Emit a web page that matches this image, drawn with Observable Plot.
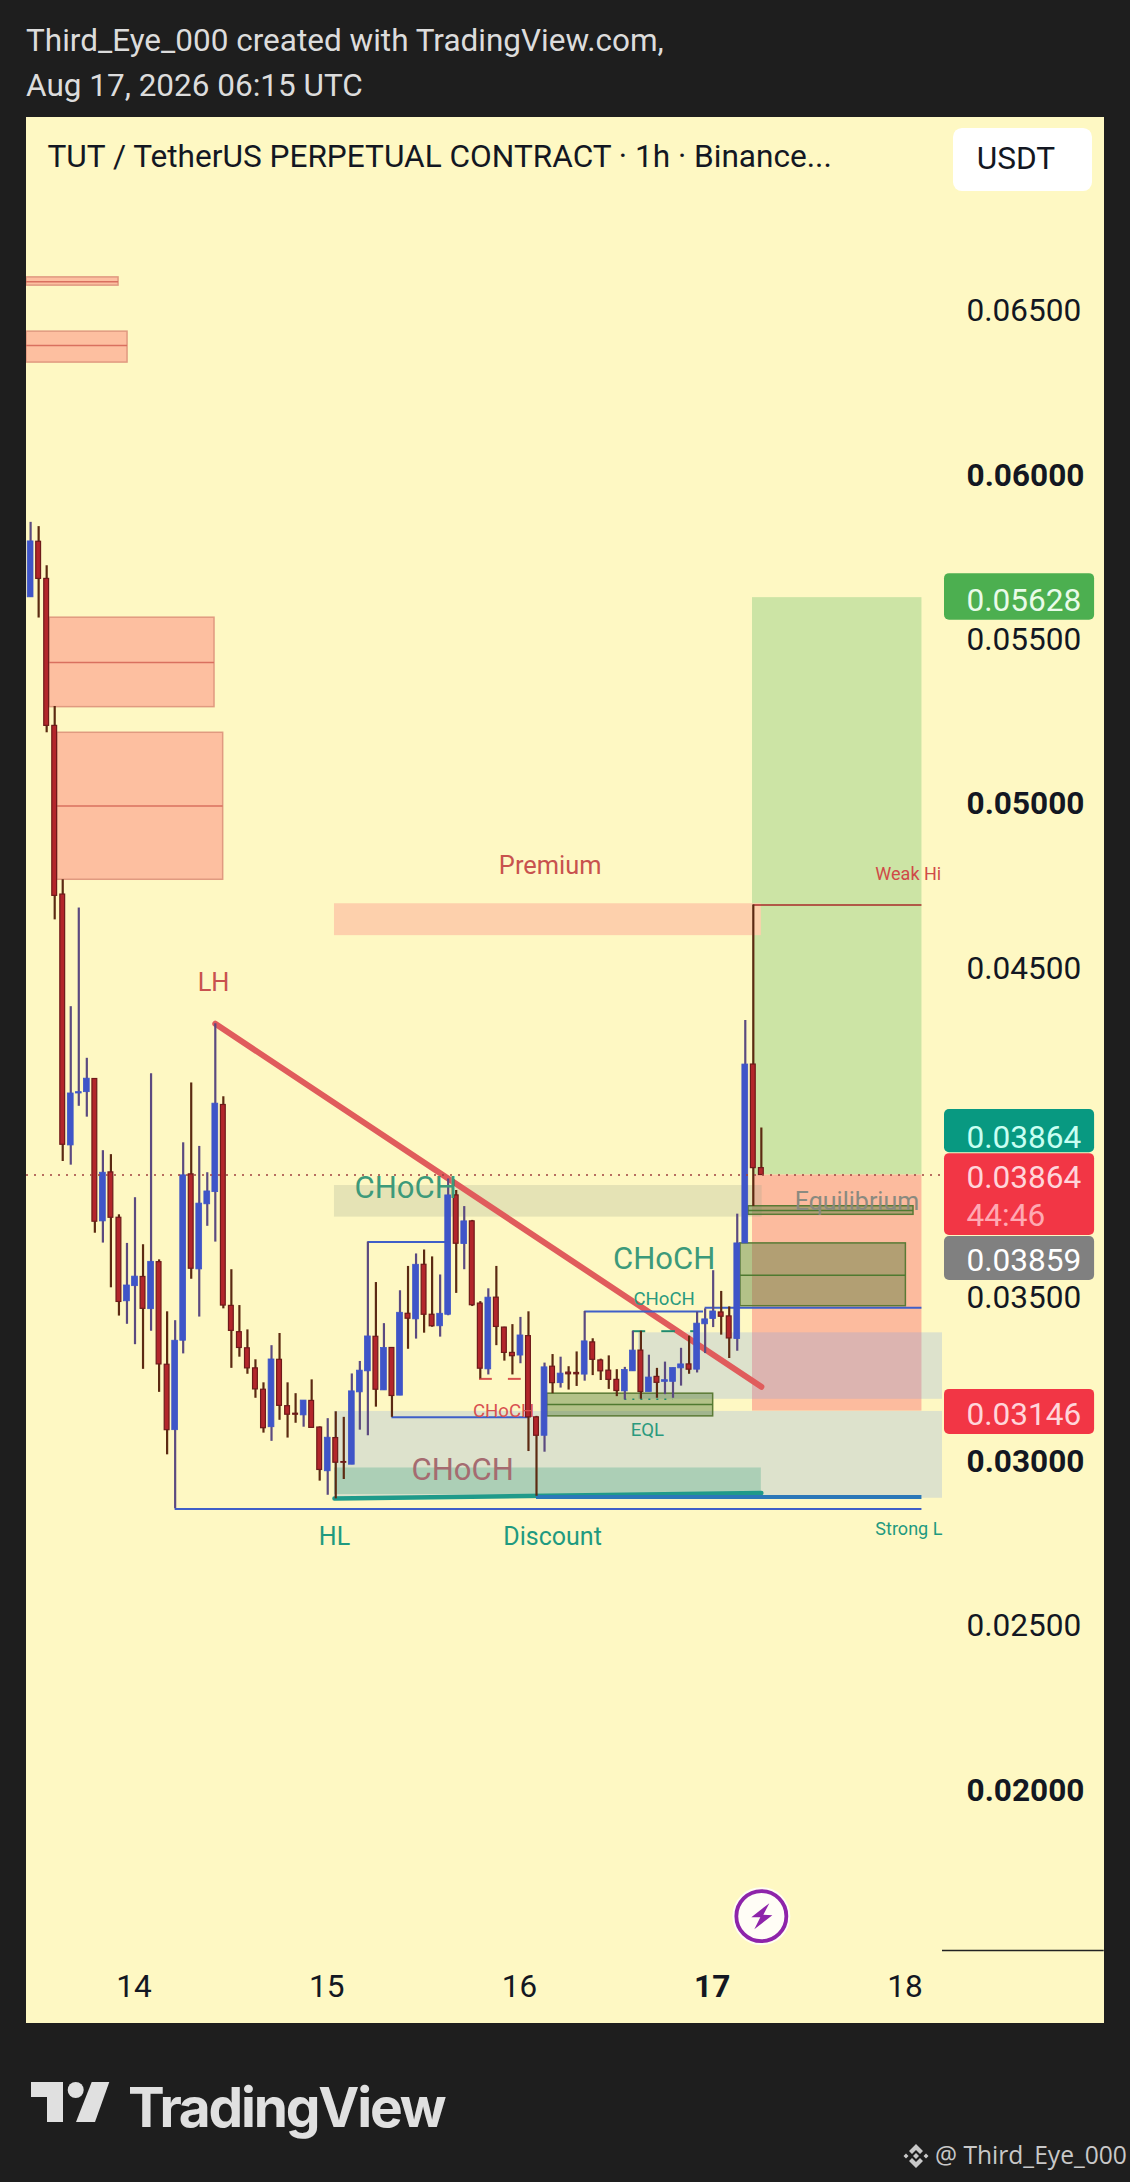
<!DOCTYPE html>
<html><head><meta charset="utf-8">
<script src="https://cdn.jsdelivr.net/npm/d3@7"></script>
<script src="https://cdn.jsdelivr.net/npm/@observablehq/plot@0.6"></script>
<style>
html,body{margin:0;padding:0;background:#1e1e1e;width:1130px;height:2182px;overflow:hidden;font-family:Roboto,sans-serif}
#head{position:absolute;left:26px;top:19px;color:#dcdcdc;font-size:31.5px;line-height:44.5px;white-space:nowrap}
#panel{position:absolute;left:26px;top:117px;width:1078px;height:1906px;background:#fef8c3;overflow:hidden}
#foot{position:absolute;left:0;top:2023px;width:1130px;height:159px}
#word{position:absolute;left:128px;top:49px;font:700 55px/70px Inter,sans-serif;color:#e0e0e0;letter-spacing:-2.2px}
#credit{position:absolute;left:935px;top:117px;font:24.6px/30px "Open Sans",sans-serif;color:#c8c8c8;white-space:nowrap}
</style></head><body>
<div id="head">Third_Eye_000 created with TradingView.com,<br>Aug 17, 2026 06:15 UTC</div>
<div id="panel"></div>
<div id="foot">
<svg style="position:absolute;left:0;top:0" width="120" height="120"><g fill="#e0e0e0"><path d="M31 59H63V99H47V74H31Z"/><path d="M91.7 59H109.3L95 99H76Z"/><circle cx="75.7" cy="67" r="8"/></g></svg>
<div id="word">TradingView</div>
<svg style="position:absolute;left:901px;top:118px" width="30" height="30" viewBox="0 0 30 30"><g fill="#c8c8c8"><path d="M15 3L22 10L19 13L15 9L11 13L8 10Z"/><path d="M15 27L22 20L19 17L15 21L11 17L8 20Z"/><path d="M15 12L18 15L15 18L12 15Z"/><path d="M5 12.5L7.5 15L5 17.5L2.5 15ZM25 12.5L27.5 15L25 17.5L22.5 15Z"/></g></svg>
<div id="credit">@ Third_Eye_000</div>
</div>
<script>
// Candles, one per hour, first candle = hour -13 relative to Aug 14 00:00
const candleOpen = [
.05621,.05790,.05677,.05230,.04717,.03954,.04112,.04116,.04156,.03723,
.03872,.03734,.03480,.03526,.03554,.03456,.03599,.03287,.03088,.03360,
.03866,.03577,.03775,.03812,.04077,.03466,.03386,.03337,.03276,.03211,
.03097,.03302,.03161,.03138,.03133,.03177,.03096,.02963,.03064,.02991,
.02983,.03203,.03267,.03372,.03209,.03338,.03193,.03442,.03425,.03591,
.03439,.03404,.03439,.03802,.03654,.03723,.03473,.03273,.03491,.03400,
.03323,.03315,.03374,.03127,.03071,.03281,.03231,.03263,.03262,.03257,
.03355,.03300,.03269,.03241,.03206,.03267,.03330,.03204,.03250,.03235,
.03235,.03276,.03288,.03272,.03410,.03426,.03446,.03434,.03365,.03656,
.04200,.03885];
const candleClose = [
.05791,.05677,.05230,.04713,.03956,.04112,.04116,.04157,.03722,.03871,
.03734,.03478,.03528,.03555,.03457,.03600,.03288,.03088,.03360,.03863,
.03579,.03777,.03814,.04081,.03467,.03390,.03338,.03276,.03212,.03094,
.03303,.03162,.03135,.03135,.03178,.03095,.02967,.03065,.02989,.02989,
.03206,.03269,.03373,.03211,.03338,.03192,.03445,.03427,.03591,.03439,
.03404,.03442,.03802,.03655,.03723,.03468,.03275,.03491,.03402,.03323,
.03313,.03376,.03127,.03071,.03279,.03231,.03260,.03258,.03258,.03358,
.03302,.03267,.03241,.03207,.03271,.03330,.03204,.03248,.03232,.03240,
.03277,.03288,.03272,.03412,.03425,.03449,.03433,.03367,.03656,.04200,
.03885,.03864];
const candleHigh = [
.05849,.05836,.05717,.05289,.04762,.04376,.04676,.04219,.04157,.03938,
.03926,.03743,.03656,.03795,.03652,.04172,.03606,.03448,.03421,.03962,
.04144,.03951,.03871,.04324,.04102,.03576,.03467,.03393,.03302,.03232,
.03345,.03382,.03232,.03199,.03178,.03241,.03098,.03123,.03144,.03127,
.03259,.03297,.03660,.03537,.03412,.03338,.03512,.03586,.03624,.03636,
.03615,.03560,.03852,.03817,.03768,.03726,.03479,.03518,.03586,.03401,
.03409,.03431,.03448,.03130,.03292,.03318,.03310,.03281,.03326,.03449,
.03366,.03304,.03314,.03272,.03279,.03389,.03389,.03316,.03276,.03295,
.03277,.03337,.03374,.03447,.03457,.03573,.03510,.03463,.03745,.04334,
.04685,.04007];
const candleLow = [
.05621,.05558,.05209,.04640,.03905,.03894,.04073,.04040,.03687,.03657,
.03521,.03435,.03410,.03348,.03273,.03389,.03203,.03013,.02849,.03320,
.03547,.03432,.03708,.03660,.03457,.03276,.03310,.03258,.03185,.03079,
.03054,.03118,.03064,.03109,.03097,.03095,.02933,.02890,.02879,.02938,
.02983,.03088,.03071,.03158,.03209,.03127,.03193,.03334,.03365,.03383,
.03401,.03371,.03436,.03504,.03576,.03464,.03244,.03256,.03345,.03298,
.03256,.03290,.03023,.02887,.03021,.03199,.03216,.03210,.03221,.03237,
.03254,.03239,.03212,.03190,.03180,.03267,.03182,.03204,.03185,.03196,
.03185,.03222,.03258,.03262,.03321,.03400,.03377,.03306,.03328,.03656,
.03768,.03864];
const firstHour = -13;

// Axis ticks
const priceTicks = [.065,.055,.045,.035,.025];
const priceTicksBold = [.06,.05,.03,.02];
const dayHours = [0,24,48,96];
const dayLabels = ["14","15","16","18"];
const dayHourBold = [72];
const dayLabelBold = ["17"];
const lastPrice = .03864;

// Order-block style zones: hour range, price range, midline
const supplyZones = [
 {h1:-13.5,h2:-2.05,top:.06594,bottom:.06569,mid:.06581},
 {h1:-13.5,h2:-0.93,top:.06429,bottom:.06335,mid:.06387},
 {h1:-10.65,h2:9.9,top:.05559,bottom:.05287,mid:.05423},
 {h1:-9.69,h2:10.98,top:.05209,bottom:.04762,mid:.04986}];
const demandZones = [
 {h1:75.4,h2:96,top:.03656,bottom:.03465,mid:.03559},
 {h1:76.4,h2:96.95,top:.03769,bottom:.03743,mid:.03756},
 {h1:51.33,h2:72,top:.03199,bottom:.03130,mid:.03166}];
const premiumZone = [{h1:24.84,h2:78,top:.04689,bottom:.04592}];
const equilibriumZone = [{h1:24.84,h2:78.1,top:.03832,bottom:.03736}];
const discountZone = [{h1:24.84,h2:78,top:.02973,bottom:.02892}];
const fvgZones = [
 {h1:24.84,h2:100.56,top:.03145,bottom:.02881},
 {h1:62.7,h2:100.56,top:.03384,bottom:.03182}];
const targetZone = [{h1:76.9,h2:98,top:.05620,bottom:.03864}];
const stopZone = [{h1:76.9,h2:98,top:.03864,bottom:.03146}];

// Structure lines
const structureLines = [
 {h1:5,h2:98,p:.02848},{h1:29,h2:39,p:.03660},{h1:32,h2:49,p:.03127},
 {h1:56,h2:70.8,p:.03449},{h1:71,h2:98,p:.03460}];
const weakHighLine = [{h1:77,h2:98,p:.04685}];
const strongLowLine = [{h1:50,h2:98,p:.02885}];
const tealLine = [{h:24.84,p:.02880},{h:78,p:.02897}];
const trendLine = [{h:10,p:.04324},{h:78,p:.03220}];
const eqhDashes = [{h1:62,h2:63.6,p:.03389},{h1:65.6,h2:67.3,p:.03389},{h1:69.2,h2:70,p:.03389}];
const chochDashes = [{h1:42.9,h2:44.5,p:.03244},{h1:46.5,h2:48.1,p:.03244}];
const eqlDots = [{h1:61,h2:67,p:.03182}];

// Text annotations
const greenBig = [{h:33.7,p:.03823,t:"CHoCH"},{h:65.9,p:.03607,t:"CHoCH"}];
const greenSmall = [{h:65.9,p:.03488,t:"CHoCH"},{h:63.8,p:.03088,t:"EQL"}];
const greenMid = [{h:24.84,p:.02762,t:"HL"},{h:52,p:.02762,t:"Discount"}];
const redMid = [{h:51.7,p:.04804,t:"Premium"},{h:9.78,p:.04447,t:"LH"}];

// Right-hand price badges
const badges = [
 {top:.05693,bottom:.05551,fill:"#4caf50"},
 {top:.04063,bottom:.03932,fill:"#089981"},
 {top:.03929,bottom:.03680,fill:"#f23645"},
 {top:.03677,bottom:.03543,fill:"#808080"},
 {top:.03212,bottom:.03075,fill:"#f23645"}];
const badgeTexts = [
 {p:.05618,t:"0.05628",ink:"#e9fbe9"},{p:.03985,t:"0.03864",ink:"#c9fff2"},
 {p:.03864,t:"0.03864",ink:"#ffd5da"},{p:.03747,t:"44:46",ink:"#ffa9b2"},
 {p:.03610,t:"0.03859",ink:"#ffffff"},{p:.03143,t:"0.03146",ink:"#ffd5da"}];
const badgeH1 = 100.81, badgeH2 = 119.5, badgeTextH = 103.55;

const candles = d3.range(candleOpen.length).map(i => ({
  hour:firstHour+i, open:candleOpen[i], close:candleClose[i], high:candleHigh[i], low:candleLow[i]}));
const up = candles.filter(d => d.close >= d.open);
const down = candles.filter(d => d.close < d.open);

const box = (rows, o) => Plot.rect(rows,{x1:"h1",x2:"h2",y1:"top",y2:"bottom",...o});
const mid = (rows, o) => Plot.ruleY(rows,{y:"mid",x1:"h1",x2:"h2",...o});
const hline = (rows, o) => Plot.ruleY(rows,{y:"p",x1:"h1",x2:"h2",...o});
const label = (rows, o) => Plot.text(rows,{x:"h",y:"p",text:"t",...o});
const fmt = d3.format(".5f");
const ink = "#131722";
const boltSymbol = {draw(ctx){
  ctx.moveTo(8,-13);ctx.lineTo(-10,1);ctx.lineTo(-1,1);ctx.lineTo(-7,13);
  ctx.lineTo(11,-1);ctx.lineTo(2,-1.3);ctx.closePath();
}};

const chart = Plot.plot({
  width:1078, height:1906, marginLeft:0, marginRight:162, marginTop:0, marginBottom:73,
  x:{domain:[-13.512,100.56]}, y:{domain:[.015055,.070803]},
  style:{background:"transparent",overflow:"visible",fontFamily:"Roboto, sans-serif"},
  color:{type:"identity"},
  marks:[
    box(targetZone,{fill:"#cce4a5"}),
    box(stopZone,{fill:"#fcbb9e"}),
    box(premiumZone,{fill:"#fdd0ac"}),
    box(equilibriumZone,{fill:"#9aa58a",fillOpacity:.25}),
    box(fvgZones,{fill:"#7aa0e7",fillOpacity:.25}),
    box(discountZone,{fill:"#2f9e7e",fillOpacity:.28}),
    box(supplyZones,{fill:"#fdbfa0",stroke:"#e09a80",strokeWidth:1.5}),
    mid(supplyZones,{stroke:"#d9705f",strokeWidth:1.5}),
    box(demandZones,{fill:"#527c3a",fillOpacity:.43,stroke:"#5a7a35",strokeWidth:1.5}),
    mid(demandZones,{stroke:"#4f7a30",strokeWidth:1.5}),
    Plot.line(trendLine,{x:"h",y:"p",stroke:"#e05c5c",strokeWidth:6}),
    Plot.line(tealLine,{x:"h",y:"p",stroke:"#1f9a8a",strokeWidth:4.5}),
    hline(strongLowLine,{stroke:"#2b78b8",strokeWidth:4}),
    hline(structureLines,{stroke:"#3f5fc8",strokeWidth:2}),
    hline(weakHighLine,{stroke:"#a82a2a",strokeWidth:1.5}),
    hline(eqhDashes,{stroke:"#1f8a70",strokeWidth:2}),
    hline(chochDashes,{stroke:"#d9534f",strokeWidth:2}),
    hline(eqlDots,{stroke:"#1f8a70",strokeWidth:1.5,strokeDasharray:"2 6"}),
    Plot.ruleX(up,{x:"hour",y1:"low",y2:"high",stroke:"#5b4a80",strokeWidth:2.2}),
    Plot.ruleX(down,{x:"hour",y1:"low",y2:"high",stroke:"#5c2a12",strokeWidth:2.2}),
    Plot.rect(up,{x1:d=>d.hour-.36,x2:d=>d.hour+.36,y1:"open",y2:"close",fill:"#3f55c8",stroke:"#3f55c8",strokeWidth:.8}),
    Plot.rect(down,{x1:d=>d.hour-.3,x2:d=>d.hour+.3,y1:"open",y2:"close",fill:"#b3262b",stroke:"#6e1a1a",strokeWidth:1.2}),
    Plot.ruleY([lastPrice],{x1:-13.512,x2:100.56,stroke:"#a04040",strokeWidth:1.5,strokeDasharray:"2 6"}),
    label(greenBig,{fill:"#3d9a7a",fontSize:31}),
    label(greenSmall,{fill:"#2a9a7e",fontSize:18.6}),
    label(greenMid,{fill:"#1f9a80",fontSize:25}),
    label(redMid,{fill:"#c8524e",fontSize:25.4}),
    label([{h:40.8,p:.02967,t:"CHoCH"}],{fill:"#a56b70",fontSize:31}),
    label([{h:45.9,p:.03145,t:"CHoCH"}],{fill:"#d85050",fontSize:18.6}),
    label([{h:89.9,p:.03783,t:"Equilibrium"}],{fill:"#8a8a80",fontSize:25}),
    label([{h:92.2,p:.04778,t:"Weak Hi"}],{fill:"#d04a48",fontSize:18,textAnchor:"start"}),
    label([{h:92.2,p:.02786,t:"Strong L"}],{fill:"#1f9a80",fontSize:18,textAnchor:"start"}),
    Plot.axisY(priceTicks,{anchor:"right",tickSize:0,tickPadding:24,tickFormat:fmt,fontSize:31.6,fill:ink,label:null,dy:2.8}),
    Plot.axisY(priceTicksBold,{anchor:"right",tickSize:0,tickPadding:24,tickFormat:fmt,fontSize:31.6,fontWeight:700,fill:ink,label:null,dy:2.8}),
    Plot.axisX(dayHours,{tickSize:0,tickPadding:24.5,tickFormat:(d,i)=>dayLabels[i],fontSize:31.6,fill:ink,label:null,dx:-1}),
    Plot.axisX(dayHourBold,{tickSize:0,tickPadding:24.5,tickFormat:(d,i)=>dayLabelBold[i],fontSize:31.6,fontWeight:700,fill:ink,label:null,dx:-1}),
    Plot.ruleY([.015055],{x1:100.56,x2:120.7,stroke:"#222",strokeWidth:1.5}),
    Plot.rect(badges,{x1:badgeH1,x2:badgeH2,y1:"top",y2:"bottom",fill:d=>d.fill,rx:5}),
    Plot.text(badgeTexts,{x:badgeTextH,y:"p",text:"t",fill:d=>d.ink,fontSize:31.6,textAnchor:"start",dy:2.5}),
    Plot.text(["TUT / TetherUS PERPETUAL CONTRACT · 1h · Binance..."],{x:-10.9,y:.06962,fontSize:31.6,fill:ink,textAnchor:"start"}),
    Plot.rect([0],{x1:101.93,x2:119.24,y1:.07047,y2:.06855,fill:"#ffffff",rx:9}),
    Plot.text(["USDT"],{x:109.7,y:.06953,fontSize:31.6,fill:ink}),
    Plot.dot([0],{x:78,y:.01610,r:29,fill:"#fffdf2"}),
    Plot.dot([0],{x:78,y:.01610,r:25,fill:"#fffdf6",stroke:"#8e24aa",strokeWidth:3.8}),
    Plot.dot([0],{x:78,y:.01610,symbol:boltSymbol,fill:"#8e24aa"})
  ]
});
document.getElementById("panel").appendChild(chart);
</script>
</body></html>
